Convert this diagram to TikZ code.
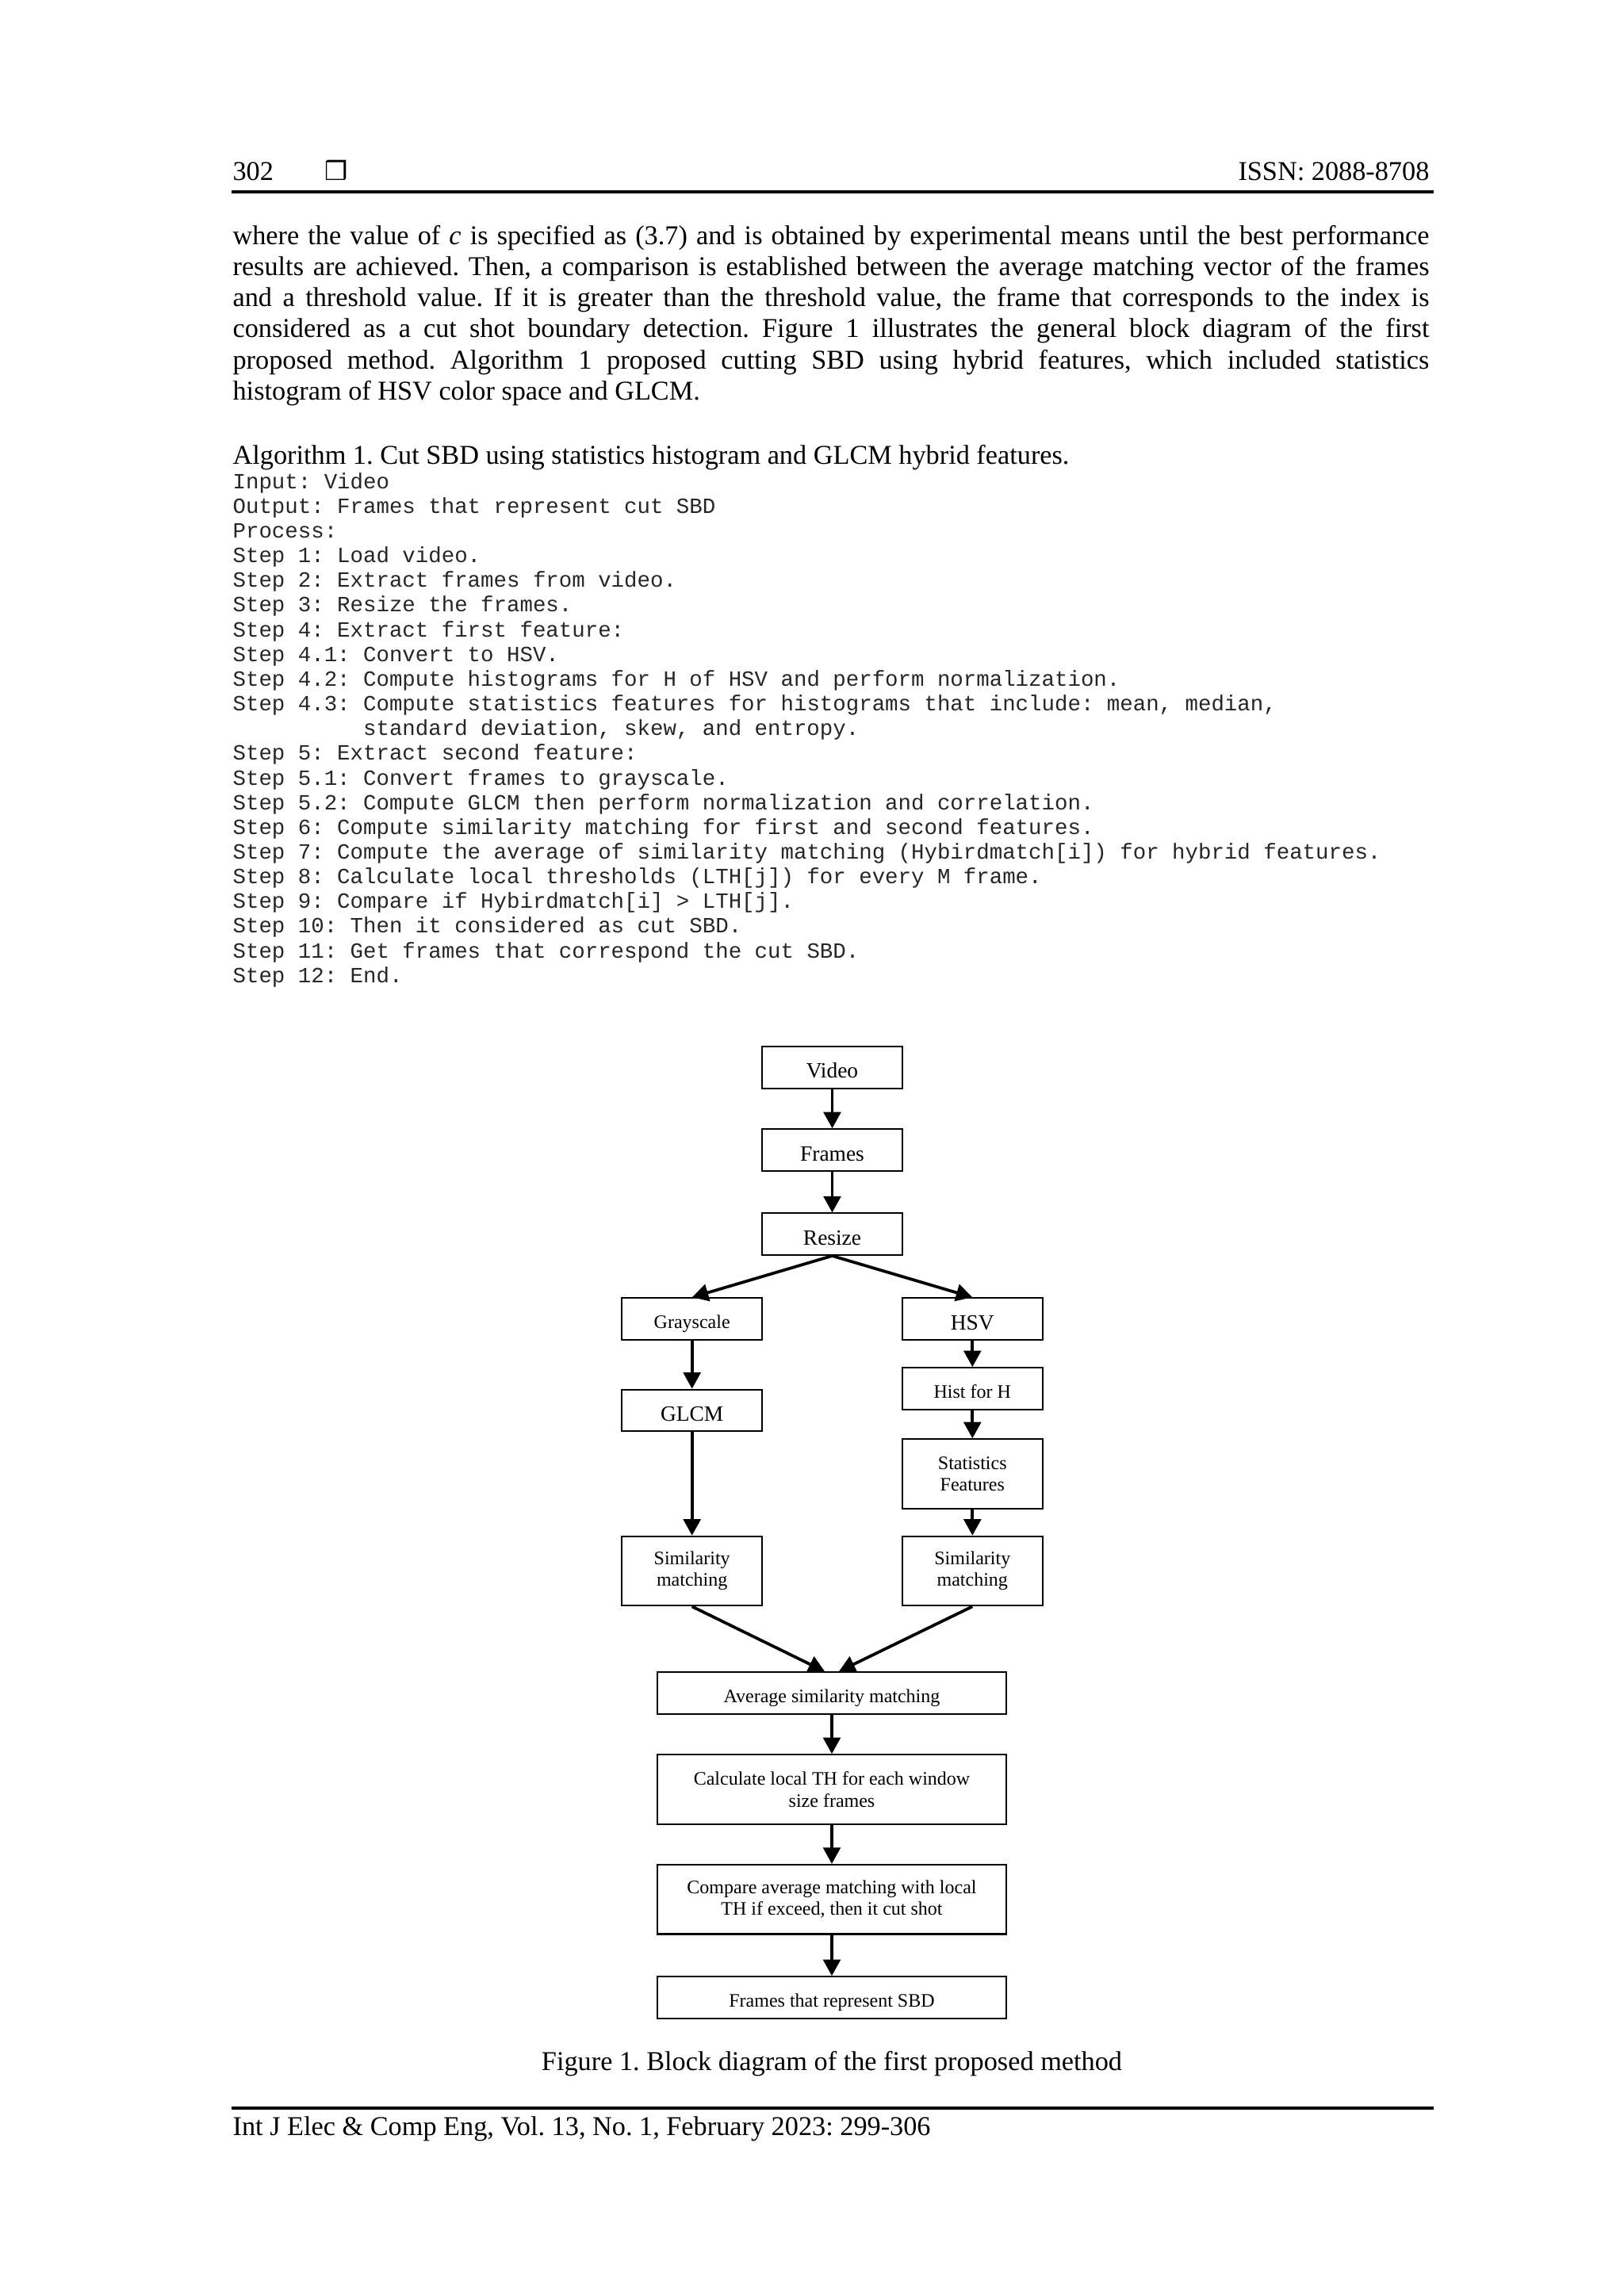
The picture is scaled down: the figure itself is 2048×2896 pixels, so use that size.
\documentclass[tikz,border=0pt]{standalone}
\usepackage{fontspec}
\setmainfont{Liberation Serif}
\setmonofont{Liberation Mono}
\newfontfamily\dejavu{DejaVu Sans}
\usetikzlibrary{arrows.meta}
\frenchspacing
\begin{document}
\begin{tikzpicture}[x=0.29175pt,y=-0.29175pt]
\tikzset{
  txt/.style={inner sep=0pt, outer sep=0pt, font=\fontsize{10}{11.5}\selectfont},
  code/.style={inner sep=0pt, outer sep=0pt, anchor=base west, text=black!85, font=\fontsize{8}{9.1}\ttfamily},
  box/.style={draw, line width=0.6pt, minimum width=51.64pt, minimum height=15.32pt, inner sep=0pt, align=center, font=\fontsize{7}{8}\selectfont},
  one/.style={text height=7.7pt, text depth=0.5pt},
  bigtxt/.style={font=\fontsize{8}{9}\selectfont, text height=8.4pt, text depth=0.5pt},
  boxt/.style={minimum height=25.53pt},
  boxw/.style={minimum width=128.37pt},
  arr/.style={line width=1.1pt, -{Triangle[length=6pt,width=6.3pt]}},
  rulel/.style={line width=1.1pt}
}
\fill[white] (0,0) rectangle (2048,2896);
\useasboundingbox (0,0) rectangle (2048,2896);

% header
\node[txt, anchor=base west] (pg) at (293.6,227.5) {302};
\node[inner sep=0pt, anchor=base west, font=\dejavu\fontsize{9.5}{10}\selectfont] (sym) at (409,227.5) {❒};
\node[txt, anchor=base east] (issn) at (1802.4,227.5) {ISSN: 2088-8708};
\coordinate (hl) at (292,242);
\coordinate (hr) at (1808,242);
\draw[rulel] (hl) -- (hr);

% paragraph
\node[txt, anchor=base west] (p1) at (293.6,308.5) {\makebox[440.2pt][s]{where the value of \textit{c} is specified as (3.7) and is obtained by experimental means until the best performance}};
\node[txt, anchor=base west] (p2) at (293.6,347.65) {\makebox[440.2pt][s]{results are achieved. Then, a comparison is established between the average matching vector of the frames}};
\node[txt, anchor=base west] (p3) at (293.6,386.8) {\makebox[440.2pt][s]{and a threshold value. If it is greater than the threshold value, the frame that corresponds to the index is}};
\node[txt, anchor=base west] (p4) at (293.6,425.95) {\makebox[440.2pt][s]{considered as a cut shot boundary detection. Figure 1 illustrates the general block diagram of the first}};
\node[txt, anchor=base west] (p5) at (293.6,465.1) {\makebox[440.2pt][s]{proposed method. Algorithm 1 proposed cutting SBD using hybrid features, which included statistics}};
\node[txt, anchor=base west] (p6) at (293.6,504.25) {histogram of HSV color space and GLCM.};

% algorithm
\node[txt, anchor=base west] (alg) at (293.6,585.1) {Algorithm 1. Cut SBD using statistics histogram and GLCM hybrid features.};
\node[code] (a0) at (293.6,616.2) {Input: Video};
\node[code] (a1) at (293.6,647.35) {Output: Frames that represent cut SBD};
\node[code] (a2) at (293.6,678.5) {Process:};
\node[code] (a3) at (293.6,709.65) {Step 1: Load video.};
\node[code] (a4) at (293.6,740.8) {Step 2: Extract frames from video.};
\node[code] (a5) at (293.6,771.95) {Step 3: Resize the frames.};
\node[code] (a6) at (293.6,803.1) {Step 4: Extract first feature:};
\node[code] (a7) at (293.6,834.25) {Step 4.1: Convert to HSV.};
\node[code] (a8) at (293.6,865.4) {Step 4.2: Compute histograms for H of HSV and perform normalization.};
\node[code] (a9) at (293.6,896.55) {Step 4.3: Compute statistics features for histograms that include: mean, median,};
\node[code] (a10) at (458.1,927.7) {standard deviation, skew, and entropy.};
\node[code] (a11) at (293.6,958.85) {Step 5: Extract second feature:};
\node[code] (a12) at (293.6,990.0) {Step 5.1: Convert frames to grayscale.};
\node[code] (a13) at (293.6,1021.15) {Step 5.2: Compute GLCM then perform normalization and correlation.};
\node[code] (a14) at (293.6,1052.3) {Step 6: Compute similarity matching for first and second features.};
\node[code] (a15) at (293.6,1083.45) {Step 7: Compute the average of similarity matching (Hybirdmatch[i]) for hybrid features.};
\node[code] (a16) at (293.6,1114.6) {Step 8: Calculate local thresholds (LTH[j]) for every M frame.};
\node[code] (a17) at (293.6,1145.75) {Step 9: Compare if Hybirdmatch[i] > LTH[j].};
\node[code] (a18) at (293.6,1176.9) {Step 10: Then it considered as cut SBD.};
\node[code] (a19) at (293.6,1208.05) {Step 11: Get frames that correspond the cut SBD.};
\node[code] (a20) at (293.6,1239.2) {Step 12: End.};

% diagram
\node[box, bigtxt] (video) at (1049.5,1346.3) {Video};
\node[box, bigtxt] (frames) at (1049.5,1450.5) {Frames};
\node[box, bigtxt] (resize) at (1049.5,1556.7) {Resize};
\node[box, one] (gray) at (872.7,1663.6) {Grayscale};
\node[box, bigtxt] (hsv) at (1226.3,1663.6) {HSV};
\node[box, bigtxt] (glcm) at (872.7,1779) {GLCM};
\node[box, one] (hist) at (1226.3,1751.5) {Hist for H};
\node[box, boxt] (stats) at (1226.3,1859) {Statistics\\Features};
\node[box, boxt] (simL) at (872.7,1981.5) {Similarity\\matching};
\node[box, boxt] (simR) at (1226.3,1981.5) {Similarity\\matching};
\node[box, boxw, one] (avg) at (1049,2135.5) {Average similarity matching};
\node[box, boxw, boxt] (calc) at (1049,2257) {Calculate local TH for each window\\size frames};
\node[box, boxw, boxt] (comp) at (1049,2395.7) {Compare average matching with local\\TH if exceed, then it cut shot};
\node[box, boxw, one] (fsbd) at (1049,2519.5) {Frames that represent SBD};

\draw[arr] (video) -- (frames);
\draw[arr] (frames) -- (resize);
\draw[arr] (resize.south) -- (gray.north);
\draw[arr] (resize.south) -- (hsv.north);
\draw[arr] (gray) -- (glcm);
\draw[arr] (glcm) -- (simL);
\draw[arr] (hsv) -- (hist);
\draw[arr] (hist) -- (stats);
\draw[arr] (stats) -- (simR);
\draw[arr] (simL.south) -- ([xshift=-2.6pt]avg.north);
\draw[arr] (simR.south) -- ([xshift=2.6pt]avg.north);
\draw[arr] (avg) -- (calc);
\draw[arr] (calc) -- (comp);
\draw[arr] (comp) -- (fsbd);

% caption and footer
\node[txt, anchor=base] (cap) at (1049,2611) {Figure 1. Block diagram of the first proposed method};
\coordinate (fl) at (292,2659);
\coordinate (fr) at (1808,2659);
\draw[rulel] (fl) -- (fr);
\node[txt, anchor=base west] (foot) at (293.6,2693.8) {Int J Elec \& Comp Eng, Vol. 13, No. 1, February 2023: 299-306};
\end{tikzpicture}
\end{document}
